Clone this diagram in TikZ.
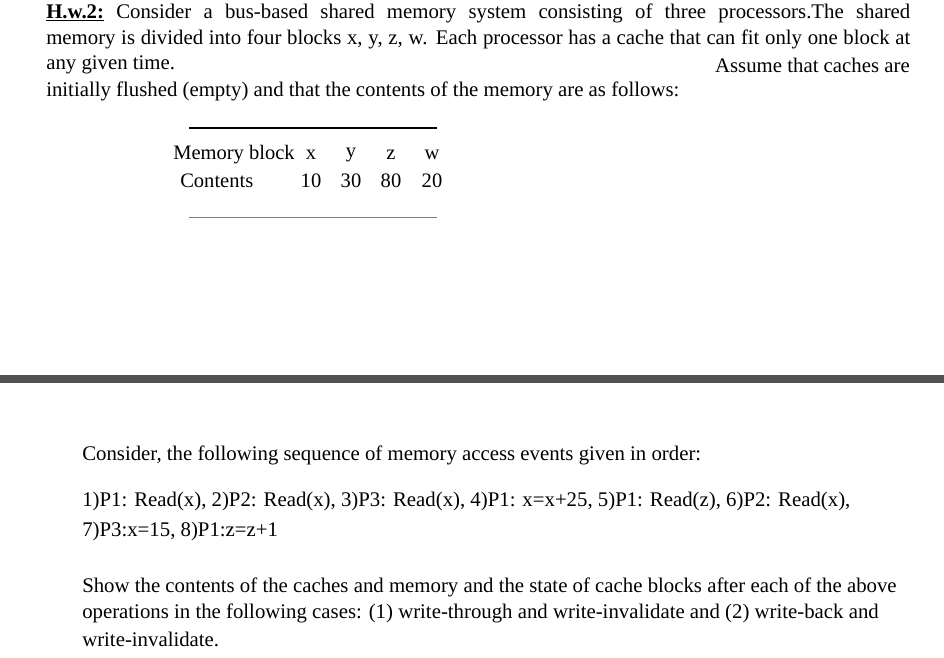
\documentclass[tikz,border=0pt]{standalone}
\usepackage{fontspec}
\setmainfont{Liberation Serif}
\begin{document}
\begin{tikzpicture}[x=0.75pt,y=-0.75pt,
  txt/.style={anchor=west,inner sep=0pt,font=\fontsize{15.6}{18}\selectfont},
  tab/.style={inner sep=0pt,font=\fontsize{15.4}{18}\selectfont}]
\useasboundingbox (0,0) rectangle (944,657);
% header
\node[txt] (l1) at (46,13) {\makebox[648pt][s]{\underline{\textbf{H.w.2:}} Consider a bus-based shared memory system consisting of three processors.The shared}};
\node[txt] (l2) at (46,39) {\makebox[648pt][s]{memory is divided into four blocks x, y, z, w. Each processor has a cache that can fit only one block at}};
\node[txt] (l3) at (46,65) {any given time.};
\node[txt,anchor=east] (l3b) at (910,65) {Assume that caches are};
\node[txt] (l4) at (46,91) {initially flushed (empty) and that the contents of the memory are as follows:};
% table
\draw[line width=1pt] (189,128) -- (437,128);
\draw[gray,line width=0.6pt] (189,217) -- (437,217);
\node[tab,anchor=west] (mb) at (173,155) {Memory block};
\node[tab,anchor=west] (ct) at (180,181) {Contents};
\node[tab] (hx) at (311,155) {x};
\node[tab] (hy) at (351,155) {y};
\node[tab] (hz) at (391,155) {z};
\node[tab] (hw) at (432,155) {w};
\node[tab] (cx) at (311,181) {10};
\node[tab] (cy) at (351,181) {30};
\node[tab] (cz) at (391,181) {80};
\node[tab] (cw) at (432,181) {20};
% separator bar
\fill[black!68] (0,375) rectangle (944,383);
% lower text
\node[txt] (b1) at (82,455) {Consider, the following sequence of memory access events given in order:};
\node[txt] (b2) at (82,501) {1)P1: Read(x), 2)P2: Read(x), 3)P3: Read(x), 4)P1: x=x+25, 5)P1: Read(z), 6)P2: Read(x),};
\node[txt] (b3) at (82,531) {7)P3:x=15, 8)P1:z=z+1};
\node[txt] (b4) at (82,587) {Show the contents of the caches and memory and the state of cache blocks after each of the above};
\node[txt] (b5) at (82,613) {operations in the following cases: (1) write-through and write-invalidate and (2) write-back and};
\node[txt] (b6) at (82,639) {write-invalidate.};
\end{tikzpicture}
\end{document}
